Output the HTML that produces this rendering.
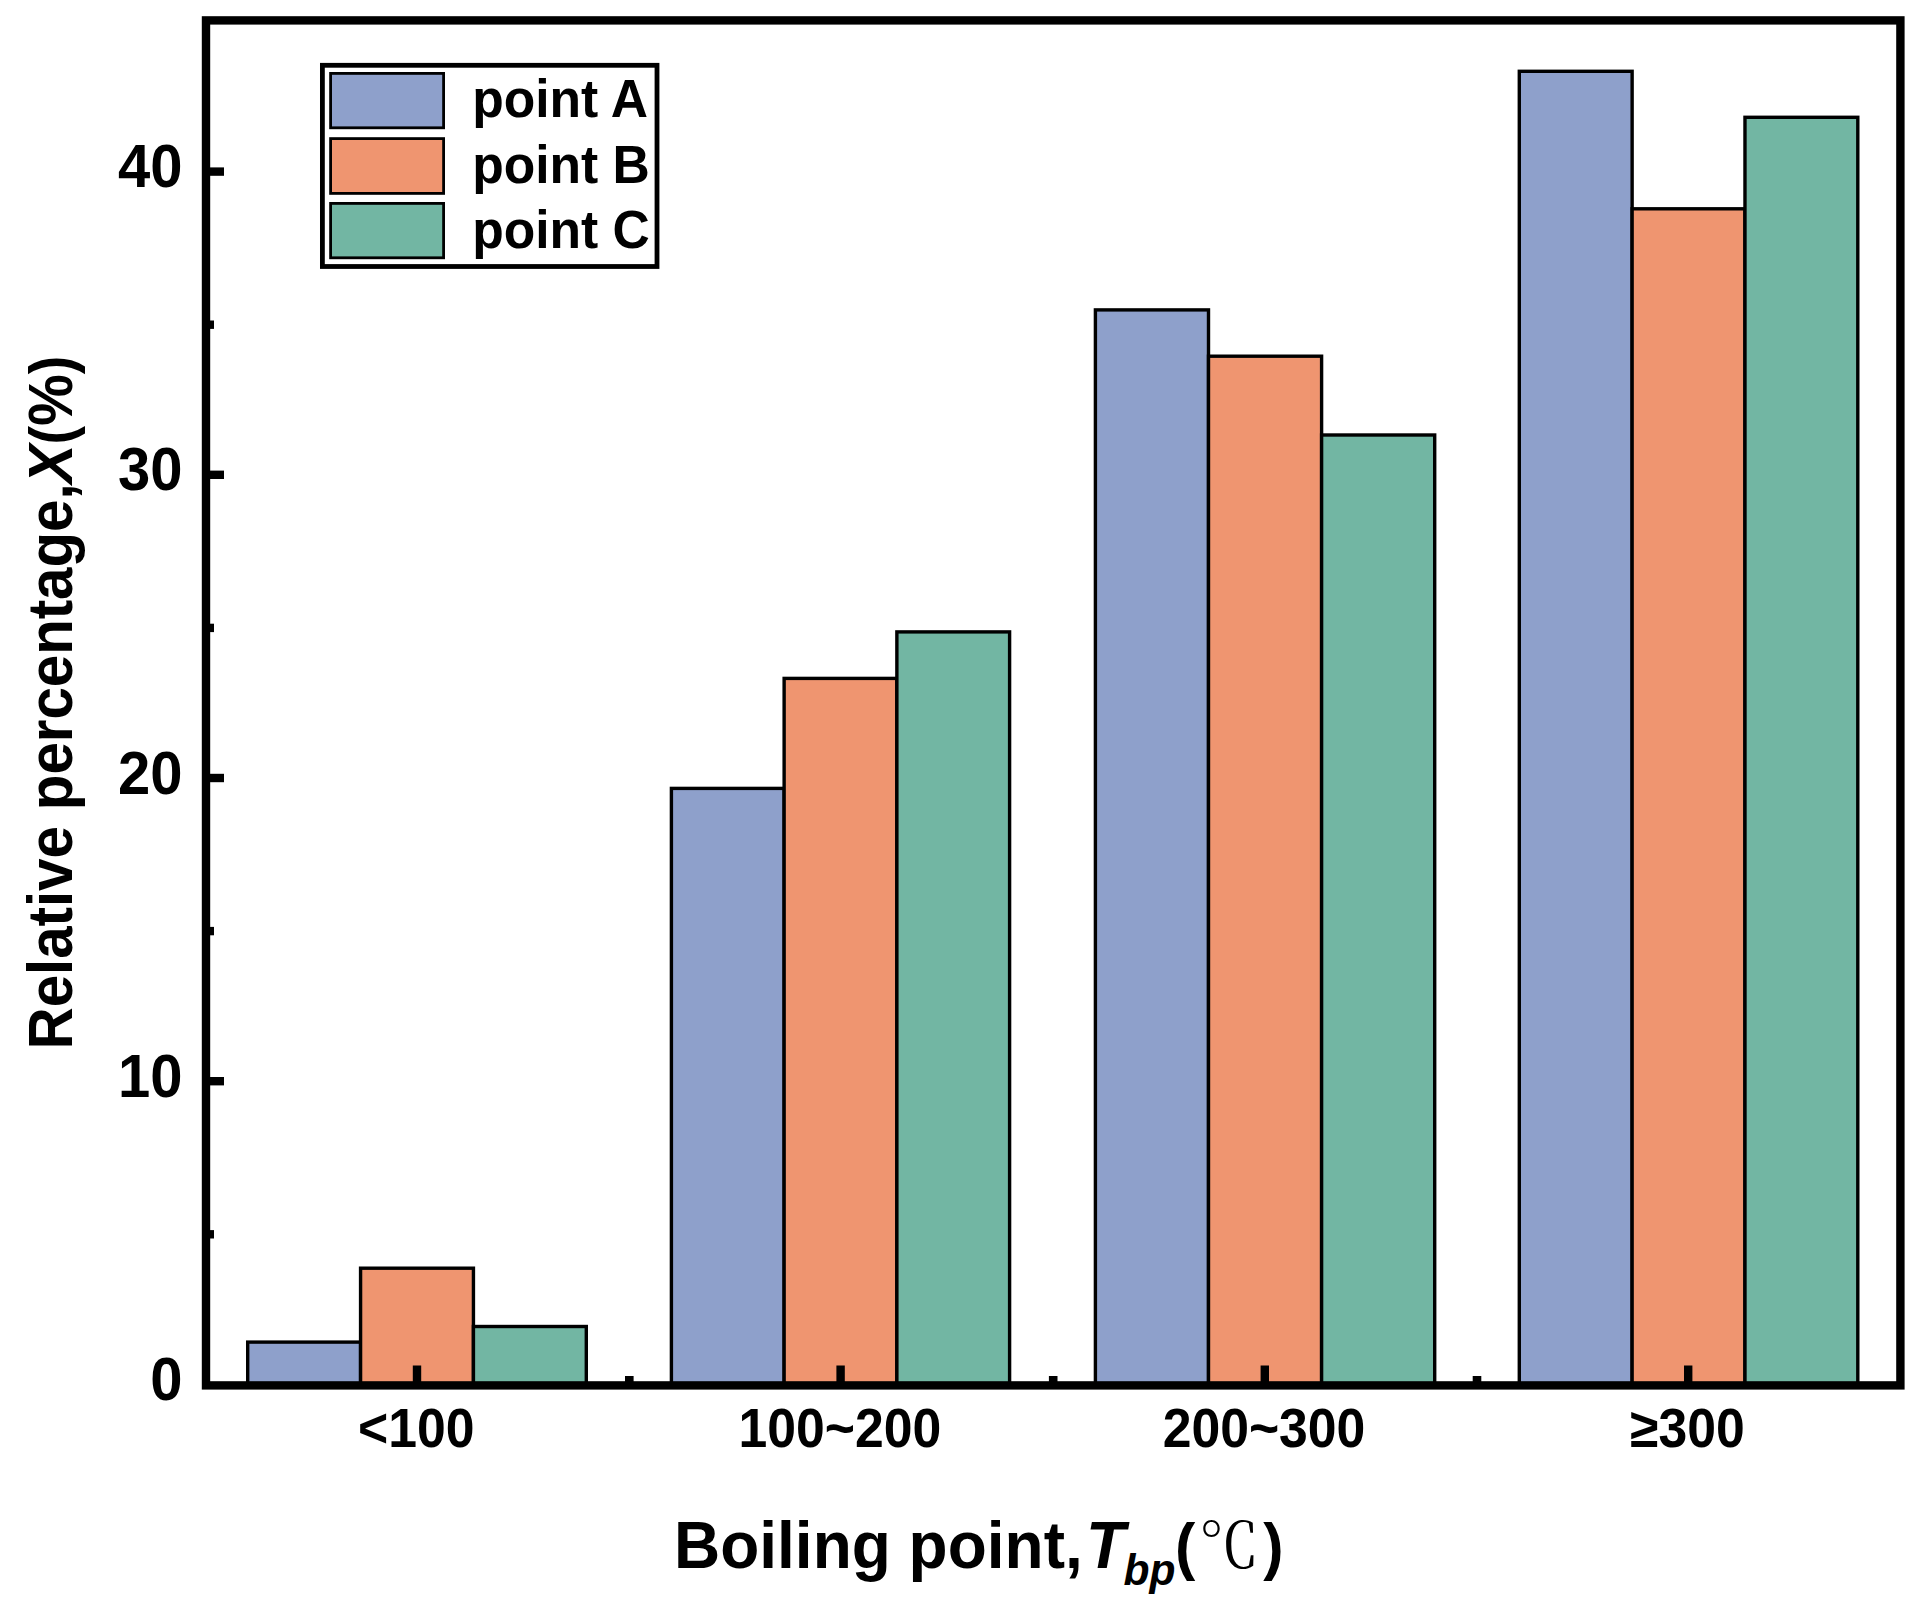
<!DOCTYPE html>
<html lang="en"><head><meta charset="utf-8"><title>Boiling point distribution</title>
<style>html,body{margin:0;padding:0;background:#fff;}body{width:1923px;height:1610px;overflow:hidden;}svg{display:block;}</style>
</head><body>
<svg width="1923" height="1610" viewBox="0 0 1923 1610">
<rect x="0" y="0" width="1923" height="1610" fill="#fff"/>
<g stroke="#000" stroke-width="3.4" stroke-linejoin="miter">
<rect x="247.70" y="1342.10" width="112.87" height="43.30" fill="#8EA0CB"/>
<rect x="360.57" y="1268.20" width="112.87" height="117.20" fill="#EF9570"/>
<rect x="473.43" y="1326.50" width="112.87" height="58.90" fill="#72B6A3"/>
<rect x="671.40" y="788.40" width="112.73" height="597.00" fill="#8EA0CB"/>
<rect x="784.13" y="678.40" width="112.73" height="707.00" fill="#EF9570"/>
<rect x="896.87" y="631.90" width="112.73" height="753.50" fill="#72B6A3"/>
<rect x="1095.40" y="309.90" width="113.10" height="1075.50" fill="#8EA0CB"/>
<rect x="1208.50" y="356.20" width="113.10" height="1029.20" fill="#EF9570"/>
<rect x="1321.60" y="435.00" width="113.10" height="950.40" fill="#72B6A3"/>
<rect x="1519.30" y="71.30" width="112.83" height="1314.10" fill="#8EA0CB"/>
<rect x="1632.13" y="208.80" width="112.83" height="1176.60" fill="#EF9570"/>
<rect x="1744.97" y="117.30" width="112.83" height="1268.10" fill="#72B6A3"/>
</g>
<g fill="#000">
<rect x="206.0" y="1077.00" width="18.0" height="8.4"/>
<rect x="206.0" y="773.80" width="18.0" height="8.4"/>
<rect x="206.0" y="470.60" width="18.0" height="8.4"/>
<rect x="206.0" y="167.40" width="18.0" height="8.4"/>
<rect x="206.0" y="1230.10" width="8.0" height="8.4"/>
<rect x="206.0" y="926.90" width="8.0" height="8.4"/>
<rect x="206.0" y="623.70" width="8.0" height="8.4"/>
<rect x="206.0" y="320.50" width="8.0" height="8.4"/>
<rect x="412.80" y="1365.5" width="8.4" height="19.9"/>
<rect x="836.40" y="1365.5" width="8.4" height="19.9"/>
<rect x="1260.60" y="1365.5" width="8.4" height="19.9"/>
<rect x="1684.00" y="1365.5" width="8.4" height="19.9"/>
<rect x="625.00" y="1376" width="8.6" height="9.4"/>
<rect x="1048.90" y="1376" width="8.6" height="9.4"/>
<rect x="1472.70" y="1376" width="8.6" height="9.4"/>
</g>
<rect x="206.0" y="20.4" width="1694.4" height="1365.0" fill="none" stroke="#000" stroke-width="8.4"/>
<rect x="322.4" y="65.3" width="334.6" height="201.2" fill="#fff" stroke="#000" stroke-width="4.8"/>
<rect x="330.6" y="73.4" width="113.0" height="54.4" fill="#8EA0CB" stroke="#000" stroke-width="2.8"/>
<rect x="330.6" y="138.6" width="113.0" height="54.8" fill="#EF9570" stroke="#000" stroke-width="2.8"/>
<rect x="330.6" y="203.4" width="113.0" height="54.4" fill="#72B6A3" stroke="#000" stroke-width="2.8"/>
<text transform="translate(472.2,117.4) scale(1.0,1.04)" font-size="51.6" text-anchor="start"  font-family="'Liberation Sans', sans-serif" font-weight="bold" fill="#000">point A</text>
<text transform="translate(472.2,183.0) scale(1.0,1.04)" font-size="51.6" text-anchor="start"  font-family="'Liberation Sans', sans-serif" font-weight="bold" fill="#000">point B</text>
<text transform="translate(472.2,248.2) scale(1.0,1.04)" font-size="51.6" text-anchor="start"  font-family="'Liberation Sans', sans-serif" font-weight="bold" fill="#000">point C</text>
<text transform="translate(182.6,1400.0) scale(1.0,1.04)" font-size="58" text-anchor="end"  font-family="'Liberation Sans', sans-serif" font-weight="bold" fill="#000">0</text>
<text transform="translate(182.6,1096.8) scale(1.0,1.04)" font-size="58" text-anchor="end"  font-family="'Liberation Sans', sans-serif" font-weight="bold" fill="#000">10</text>
<text transform="translate(182.6,793.6) scale(1.0,1.04)" font-size="58" text-anchor="end"  font-family="'Liberation Sans', sans-serif" font-weight="bold" fill="#000">20</text>
<text transform="translate(182.6,490.4) scale(1.0,1.04)" font-size="58" text-anchor="end"  font-family="'Liberation Sans', sans-serif" font-weight="bold" fill="#000">30</text>
<text transform="translate(182.6,187.2) scale(1.0,1.04)" font-size="58" text-anchor="end"  font-family="'Liberation Sans', sans-serif" font-weight="bold" fill="#000">40</text>
<text transform="translate(416.2,1446.6) scale(1.0,1.07)" font-size="51.7" text-anchor="middle"  font-family="'Liberation Sans', sans-serif" font-weight="bold" fill="#000">&lt;100</text>
<text transform="translate(839.8,1446.6) scale(1.0,1.07)" font-size="51.7" text-anchor="middle"  font-family="'Liberation Sans', sans-serif" font-weight="bold" fill="#000">100~200</text>
<text transform="translate(1264.0,1446.6) scale(1.0,1.07)" font-size="51.7" text-anchor="middle"  font-family="'Liberation Sans', sans-serif" font-weight="bold" fill="#000">200~300</text>
<text transform="translate(1687.4,1446.6) scale(1.0,1.07)" font-size="51.7" text-anchor="middle"  font-family="'Liberation Sans', sans-serif" font-weight="bold" fill="#000">≥300</text>
<text transform="translate(72.0,1049.4) rotate(-90) scale(1.0,1.085)" font-size="58.4" text-anchor="start" letter-spacing="-0.1" font-family="'Liberation Sans', sans-serif" font-weight="bold" fill="#000">Relative percentage,<tspan font-style="italic">X</tspan><tspan font-size="56">(</tspan>%<tspan font-size="56">)</tspan></text>
<text transform="translate(674.0,1567.5) scale(1.0,1.027)" font-size="64" text-anchor="start"  font-family="'Liberation Sans', sans-serif" font-weight="bold" fill="#000">Boiling point,<tspan font-style="italic" x="412.1">T</tspan><tspan font-style="italic" font-size="42.5" x="449.6" dy="16.55">bp</tspan><tspan font-size="61" x="500.9" dy="-16.55">(</tspan><tspan font-family="'Noto Serif CJK SC', 'Noto Serif CJK JP', serif" font-weight="normal" font-size="60.5" x="524.8">℃</tspan><tspan font-size="61" x="589.3">)</tspan></text>
</svg>
</body></html>
